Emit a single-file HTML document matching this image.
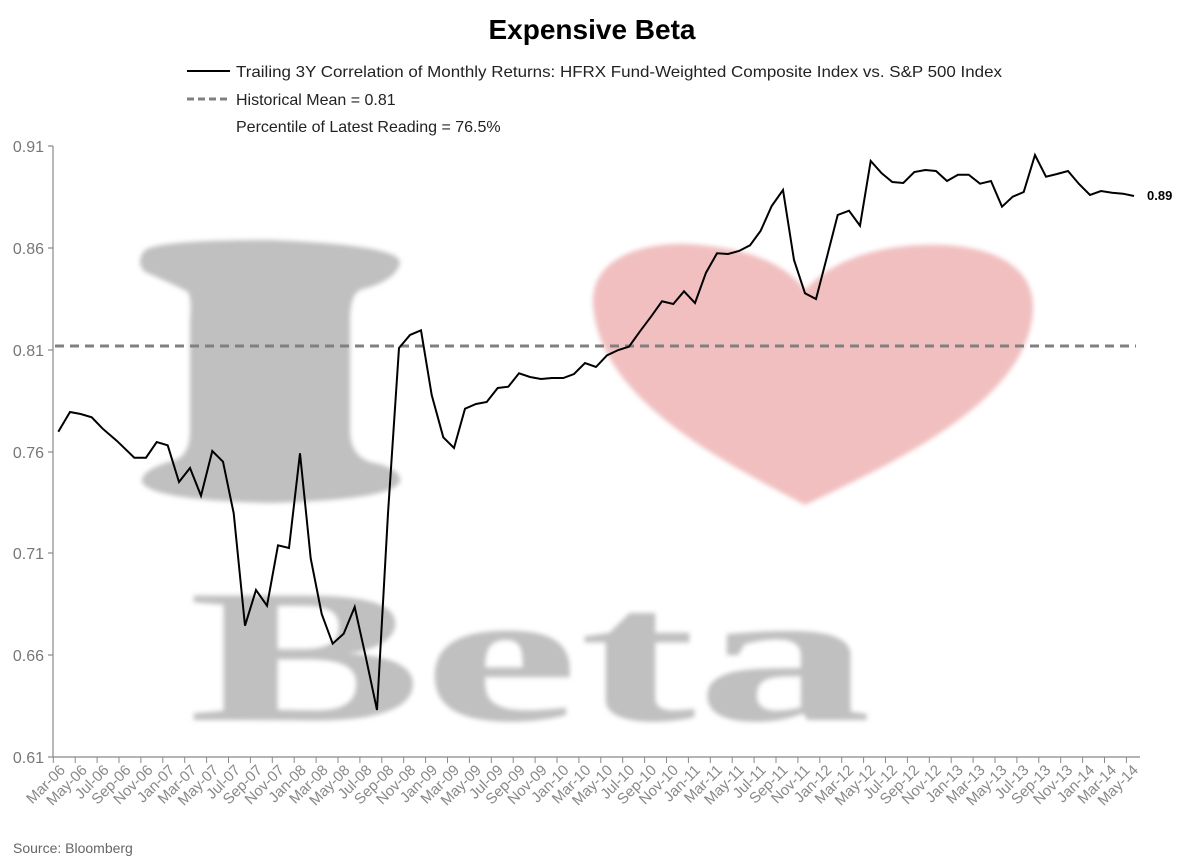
<!DOCTYPE html>
<html><head><meta charset="utf-8"><style>
body{margin:0;background:#fff;}
svg{display:block;font-family:"Liberation Sans",sans-serif;}
</style></head><body>
<svg width="1184" height="860" viewBox="0 0 1184 860" xmlns="http://www.w3.org/2000/svg">
<defs>
<filter id="bl" x="-10%" y="-10%" width="120%" height="120%"><feGaussianBlur stdDeviation="2.5"/></filter>
</defs>
<rect width="1184" height="860" fill="#fff"/>
<g fill="#c0c0c0" filter="url(#bl)">
<path d="M145,250 Q135,262 145,272 Q175,285 188,292 Q192,300 190,320 L190,430 Q190,455 175,460 Q140,470 142,482 Q150,500 270,503 Q390,500 400,482 Q402,468 370,462 Q350,455 350,430 L350,320 Q350,295 360,290 Q398,280 400,262 Q398,245 270,240 Q160,240 145,250 Z"/>
<text x="188" y="720" font-family="Liberation Serif,serif" font-weight="bold" font-size="190" textLength="684" lengthAdjust="spacingAndGlyphs">Beta</text>
</g>
<path fill="#f1bfc0" filter="url(#bl)" d="M805,505 C720,460 600,400 593,305 C590,250 660,240 700,245 C760,250 790,270 805,290 C825,268 860,248 920,245 C990,242 1035,265 1033,310 C1028,400 900,460 805,505 Z"/>
<text x="592" y="39" text-anchor="middle" font-size="28" font-weight="900" fill="#000">Expensive Beta</text>
<line x1="187" y1="71" x2="230" y2="71" stroke="#000" stroke-width="2"/>
<text x="236" y="77" font-size="16" fill="#222" textLength="766" lengthAdjust="spacingAndGlyphs">Trailing 3Y Correlation of Monthly Returns: HFRX Fund-Weighted  Composite Index vs. S&amp;P 500 Index</text>
<line x1="187" y1="99" x2="230" y2="99" stroke="#808080" stroke-width="3" stroke-dasharray="7 4"/>
<text x="236" y="105" font-size="16" fill="#222">Historical Mean = 0.81</text>
<text x="236" y="132" font-size="16" fill="#222">Percentile of Latest Reading = 76.5%</text>
<g stroke="#888" stroke-width="1.2">
<line x1="53" y1="146" x2="53" y2="757"/>
<line x1="53" y1="757" x2="1140" y2="757"/>
<line x1="48" y1="146" x2="53" y2="146"/><line x1="48" y1="248" x2="53" y2="248"/>
<line x1="48" y1="350" x2="53" y2="350"/><line x1="48" y1="452" x2="53" y2="452"/>
<line x1="48" y1="553" x2="53" y2="553"/><line x1="48" y1="655" x2="53" y2="655"/>
<line x1="48" y1="757" x2="53" y2="757"/>
</g>
<g id="xt" stroke="#888" stroke-width="1"></g>
<g font-size="16" fill="#777" text-anchor="end">
<text x="44" y="152">0.91</text><text x="44" y="254">0.86</text><text x="44" y="356">0.81</text>
<text x="44" y="458">0.76</text><text x="44" y="559">0.71</text><text x="44" y="661">0.66</text><text x="44" y="763">0.61</text>
</g>
<g id="xl" font-size="15" fill="#888" text-anchor="end"></g>
<line x1="55" y1="346" x2="1136" y2="346" stroke="#808080" stroke-width="3" stroke-dasharray="9 6"/>
<polyline fill="none" stroke="#000" stroke-width="2" stroke-linejoin="miter" points="58.3,431.7 70,412 80.7,414 91.7,417.3 102.7,428.7 116.7,440.7 134.3,457.7 146,457.7 156.7,442 167.7,445.3 179,482 190,468 201,495.7 212.3,451 223,461.7 233.7,513.3 245,625.7 256,590 267,605.7 278,545.3 289,548 300,453.3 310.7,558.3 321.7,614 332.7,643.7 343.7,633.7 354.7,607 365.7,656.7 377,710 388,513.3 399,348 410,335 421,330.3 431.7,395 443.3,437.3 454,448 465,408.7 476,404 486.7,402 497.7,388 508.3,386.7 519,373.3 530,377 541,379 552,378 563.3,378 574,374 585,363 596,367 607,355.3 618.3,350 629,346.7 640,331.3 651,316.7 662,301.3 673.3,304 684,291.3 695,303 706,272.7 717,253.3 728,254 739,251 750,245.3 760.7,230.7 771.7,206 783,190 794,260 805,293.3 816,299 827,256.7 837.7,215 849,210.7 860,225.7 870.7,161 881.7,173.3 892.3,182 903.3,183 914.3,172 925.3,170 936,171 947,181 958,174.7 968.7,174.7 980,183.7 991,181 1002,206.7 1012.7,196.7 1023.7,192 1035,155 1046,176.7 1057,174 1068,171 1079,184 1090,195 1101,191 1112,192.7 1123,193.7 1134,196"/>
<text x="1147" y="200" font-size="13" font-weight="bold" fill="#000">0.89</text>
<text x="13" y="853" font-size="14" fill="#666">Source: Bloomberg</text>
<script>
var xt=document.getElementById("xt"),xl=document.getElementById("xl"),ns="http://www.w3.org/2000/svg";
for(var k=0;k<50;k++){
 var t=document.createElementNS(ns,"line");var tx=53.3+k*21.9;
 t.setAttribute("x1",tx);t.setAttribute("x2",tx);t.setAttribute("y1",757);t.setAttribute("y2",763);xt.appendChild(t);
 var mi=2+2*k;var yr=6+Math.floor(mi/12);var mo=["Jan","Feb","Mar","Apr","May","Jun","Jul","Aug","Sep","Oct","Nov","Dec"][mi%12];
 var s=document.createElementNS(ns,"text");var x=66+k*21.9,y=771;
 s.setAttribute("x",x);s.setAttribute("y",y);s.setAttribute("transform","rotate(-45 "+x+" "+y+")");
 s.textContent=mo+"-"+(yr<10?"0"+yr:yr);xl.appendChild(s);
}
</script>
</svg>
</body></html>
